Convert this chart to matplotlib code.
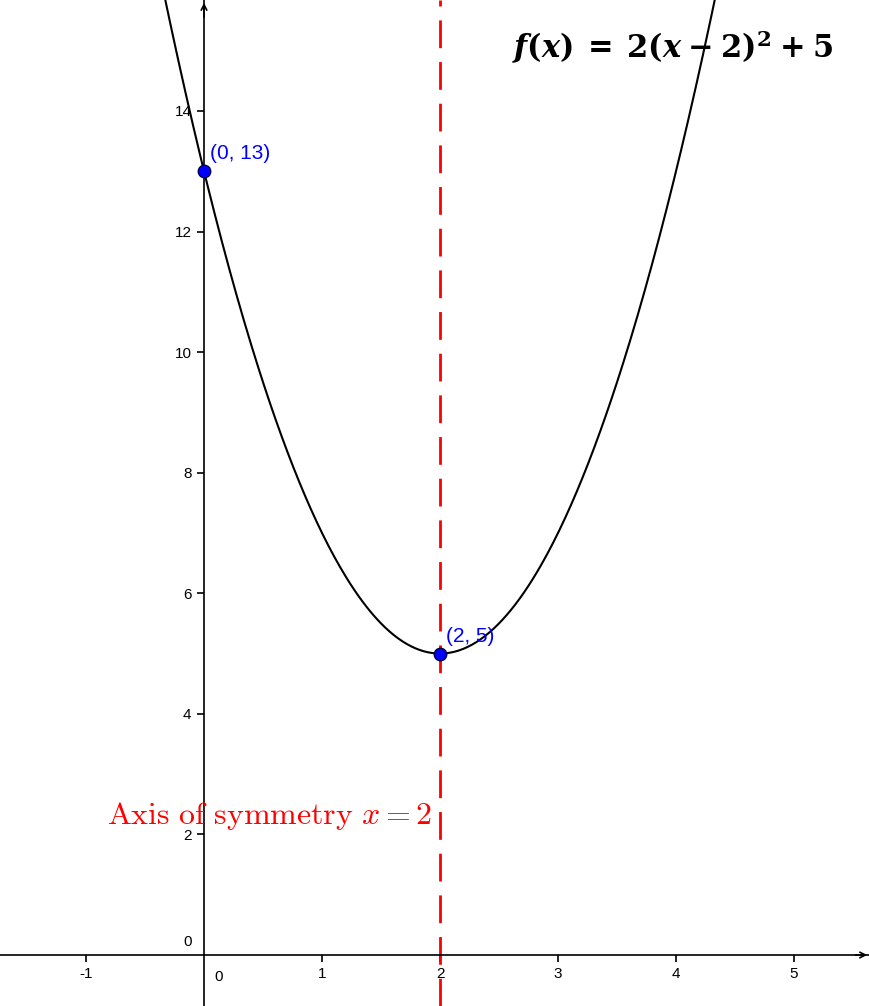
import numpy as np
import matplotlib.pyplot as plt

# -----------------------------
# Data
# -----------------------------
a, h, k = 2, 2, 5
x_ticks = [-1, 1, 2, 3, 4, 5]
y_ticks = [2, 4, 6, 8, 10, 12, 14]
points_x = [0, 2]
points_y = [13, 5]
point_labels = ["(0, 13)", "(2, 5)"]

X_MIN, X_MAX = -1.729, 5.644
Y_MIN, Y_MAX = -0.846, 15.84

plt.rcParams["mathtext.fontset"] = "cm"
# bold set, used only by the formula text (math_fontfamily="custom")
plt.rcParams["mathtext.rm"] = "DejaVu Serif:bold"
plt.rcParams["mathtext.it"] = "DejaVu Serif:italic:bold"
plt.rcParams["mathtext.bf"] = "DejaVu Serif:bold"
plt.rcParams["axes.unicode_minus"] = False
plt.rcParams["font.family"] = ["Liberation Sans", "DejaVu Sans"]

fig = plt.figure(figsize=(8.7, 10.06), dpi=100)
ax = fig.add_axes([0, 0, 1, 1])
ax.set_xlim(X_MIN, X_MAX)
ax.set_ylim(Y_MIN, Y_MAX)

# axes through the origin
for s in ["top", "right"]:
    ax.spines[s].set_visible(False)
ax.spines["left"].set_position(("data", 0))
ax.spines["bottom"].set_position(("data", 0))
for s in ["left", "bottom"]:
    ax.spines[s].set_linewidth(1.2)

ax.set_xticks(x_ticks)
ax.set_yticks(y_ticks)
ax.tick_params(axis="both", direction="out", length=5, width=1.2,
               labelsize=11, pad=4)
ax.text(0.12, -0.25, "0", fontsize=11, ha="center", va="top")
ax.text(-0.1, 0.1, "0", fontsize=11, ha="right", va="bottom")

# arrowheads
ax.annotate("", xy=(1.0, 0), xytext=(0.98, 0),
            xycoords=("axes fraction", "data"),
            arrowprops=dict(arrowstyle="->", lw=1.2, color="black"))
ax.annotate("", xy=(0, 1.0), xytext=(0, 0.98),
            xycoords=("data", "axes fraction"),
            arrowprops=dict(arrowstyle="->", lw=1.2, color="black"))

# parabola
xs = np.linspace(X_MIN, X_MAX, 600)
ax.plot(xs, a * (xs - h) ** 2 + k, color="black", lw=1.5, zorder=3)

# axis of symmetry
ax.axvline(h, color="red", lw=2, linestyle=(0, (10, 5)), zorder=2)

# points
ax.plot(points_x, points_y, "o", ms=9, mfc="#0000ff", mec="#000044",
        mew=1, zorder=5, clip_on=False)
for px, py, lab in zip(points_x, points_y, point_labels):
    ax.annotate(lab, (px, py), xytext=(6, 8), textcoords="offset pixels",
                color="#0000ff", fontsize=15, ha="left", va="bottom")

# text
ax.text(0.957, 0.953, r"$f(x)\:=\:2(x\:-\:2)^2\:+\:5$", math_fontfamily="custom",
        transform=ax.transAxes, fontsize=22, ha="right", va="center")
ax.text(1.93, 2.3, r"$\mathrm{Axis\ of\ symmetry}\ x = 2$",
        color="red", fontsize=23, ha="right", va="center")

fig.savefig("out.png", dpi=100)
